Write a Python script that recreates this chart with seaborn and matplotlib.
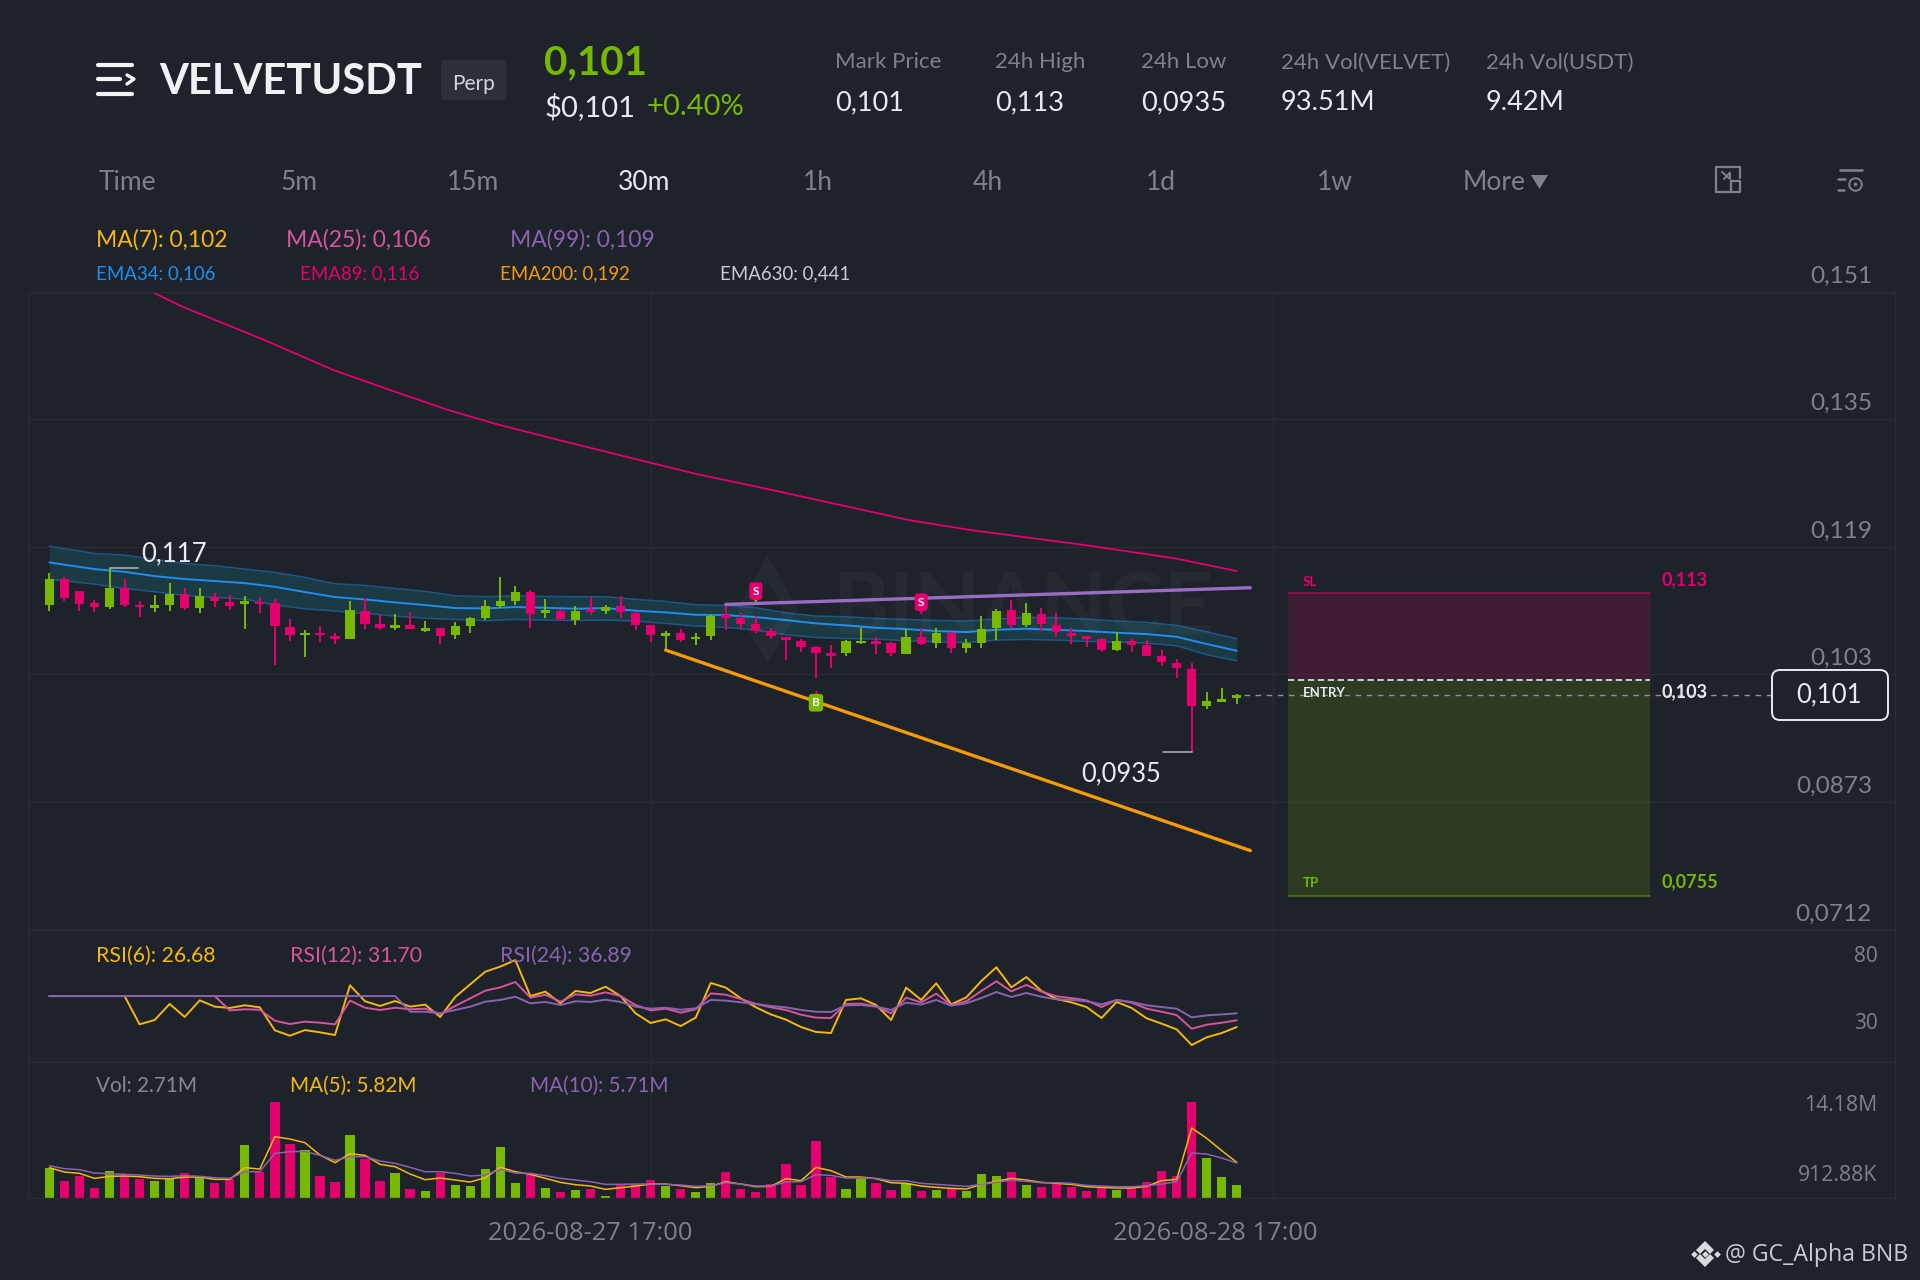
import numpy as np
import pandas as pd
import seaborn as sns
from matplotlib import pyplot as plt
from matplotlib.lines import Line2D
from matplotlib.patches import FancyBboxPatch, Polygon, Rectangle
from matplotlib.transforms import IdentityTransform

W, H = 1920, 1280

# Colours
BG = '#1e222a'
GRID = '#282c34'
GREEN = '#76b900'
PINK = '#e6006d'
GREY = '#7d828a'
WHITE = '#e8eaec'
YELLOW = '#f5b80e'
ROSE = '#d6559d'
PURPLE = '#8a63b0'
BLUE = '#1e8ff0'
ORANGE = '#f59a0b'

# Candles, 30m
opens = [.11165, .11491, .11344, .11193, .11144, .11381, .11173, .11135, .11173, .11302,
         .11135, .11269, .11202, .11177, .11210, .11190, .10889, .10788, .10822, .10784,
         .10746, .11089, .10931, .10884, .10922, .10847, .10880, .10788, .10906, .11005,
         .11152, .11223, .11328, .11068, .11098, .10984, .11115, .11093, .11152, .11068,
         .10914, .10780, .10813, .10742, .10775, .11043, .11005, .10931, .10842, .10767,
         .10722, .10642, .10563, .10563, .10688, .10713, .10692, .10555, .10771, .10697,
         .10822, .10625, .10697, .10876, .11102, .10914, .11051, .10918, .10817, .10780,
         .10742, .10604, .10713, .10663, .10534, .10441, .10366, .09907, .09956, .09998]
closes = [.11499, .11256, .11186, .11144, .11381, .11173, .11140, .11173, .11302, .11135,
          .11282, .11214, .11161, .11214, .11177, .10910, .10796, .10822, .10788, .10746,
          .11102, .10935, .10884, .10922, .10872, .10880, .10775, .10901, .11001, .11152,
          .11218, .11328, .11060, .11102, .10989, .11098, .11081, .11140, .11077, .10918,
          .10796, .10813, .10733, .10771, .11031, .11005, .10935, .10842, .10775, .10733,
          .10638, .10566, .10530, .10713, .10722, .10680, .10566, .10771, .10684, .10822,
          .10625, .10692, .10872, .11093, .10914, .11064, .10926, .10830, .10784, .10742,
          .10604, .10722, .10671, .10534, .10454, .10378, .09907, .09960, .09990, .10036]
highs = [.11566, .11516, .11344, .11231, .11628, .11491, .11223, .11294, .11440, .11381,
         .11377, .11319, .11290, .11282, .11265, .11240, .10993, .10855, .10906, .10813,
         .11214, .11260, .11047, .11056, .11085, .10964, .10884, .10952, .11022, .11231,
         .11516, .11407, .11353, .11244, .11115, .11152, .11282, .11165, .11282, .11085,
         .10914, .10838, .10864, .10813, .11047, .11182, .11064, .11026, .10880, .10771,
         .10738, .10655, .10663, .10730, .10876, .10771, .10705, .10872, .10884, .10884,
         .10834, .10742, .11031, .11123, .11231, .11190, .11131, .11064, .10876, .10780,
         .10754, .10830, .10738, .10730, .10604, .10488, .10437, .10074, .10124, .10057]
lows = [.11098, .11214, .11098, .11085, .11123, .11148, .11022, .11077, .11098, .11106,
        .11064, .11144, .11106, .10872, .11064, .10416, .10713, .10517, .10709, .10680,
        .10746, .10872, .10855, .10855, .10864, .10834, .10680, .10742, .10813, .10981,
        .11135, .11169, .10884, .11001, .10964, .10914, .11043, .11056, .11005, .10855,
        .10705, .10604, .10709, .10667, .10726, .10855, .10864, .10817, .10746, .10475,
        .10583, .10257, .10382, .10534, .10680, .10555, .10534, .10555, .10671, .10633,
        .10566, .10571, .10633, .10733, .10884, .10897, .10847, .10767, .10675, .10642,
        .10583, .10596, .10579, .10530, .10408, .10257, .09322, .09865, .09949, .09928]

# EMA34 band
ema34_idx = [0, 3, 5, 7, 9, 11, 13, 15, 17, 19, 21, 23, 25, 27, 29, 31, 33, 35, 37, 39,
             41, 43, 45, 47, 49, 51, 53, 55, 57, 59, 61, 63, 65, 67, 69, 71, 73, 75, 77, 79]
ema34_mid = [.11703, .11620, .11586, .11532, .11495, .11470, .11444, .11398, .11332, .11269,
             .11240, .11202, .11169, .11131, .11127, .11144, .11135, .11123, .11131, .11098,
             .11077, .11047, .11043, .11018, .10981, .10939, .10914, .10884, .10868, .10843,
             .10830, .10859, .10872, .10859, .10843, .10822, .10805, .10771, .10680, .10596]
ema34_up = [.11908, .11816, .11795, .11741, .11691, .11662, .11620, .11578, .11516, .11436,
            .11415, .11377, .11340, .11286, .11273, .11286, .11277, .11273, .11273, .11240,
            .11214, .11173, .11165, .11135, .11072, .11031, .11022, .11001, .10989, .10976,
            .10968, .10993, .11014, .11010, .10993, .10968, .10952, .10914, .10834, .10746]
ema34_lo = [.11490, .11432, .11377, .11336, .11290, .11265, .11244, .11169, .11123, .11093,
            .11064, .11031, .11005, .10989, .10972, .10989, .10981, .10976, .10981, .10968,
            .10939, .10906, .10889, .10855, .10796, .10763, .10750, .10742, .10722, .10709,
            .10700, .10730, .10738, .10730, .10713, .10705, .10692, .10658, .10546, .10471]

# EMA89
ema89_idx = [6.8, 8.9, 14.05, 18.9, 23.0, 26.55, 29.8, 33.9, 40, 43, 48, 57.2, 61.3, 68.9, 74.9, 79]
ema89 = [.15098, .14906, .14513, .14116, .13844, .13614, .13435, .13238, .12953, .12815,
         .12615, .12234, .12109, .11921, .11754, .11595]

# Drawn trend lines
sell_line_idx = [45, 79.9]
sell_line = [.11177, .11386]
buy_line_idx = [41, 79.9]
buy_line = [.10604, .0809]

# Trade box
sl_price = .11316
entry_price = .10229
tp_price = .07519
last_price = .10037

price_ticks = [.151, .135, .119, .103, .087, .071]
price_labels = ['0,151', '0,135', '0,119', '0,103', '0,0873', '0,0712']

rsi6 = [49.8, 49.8, 49.8, 49.8, 49.8, 49.8, 28.7, 31.9, 43.9, 34.2, 46.6, 41.9, 40.9, 42.9, 41.4, 24.2,
        20.2, 24.4, 22.7, 20.7, 57.8, 45.9, 42.4, 46.1, 41.9, 43.4, 34.2, 49.1, 58.6, 68.0, 71.8, 76.7,
        49.8, 53.1, 44.4, 53.6, 52.1, 56.8, 49.8, 36.9, 29.7, 32.4, 27.4, 33.7, 59.6, 56.1, 48.1, 41.4,
        36.1, 32.2, 26.7, 23.0, 22.2, 46.9, 48.1, 43.1, 31.9, 56.1, 46.9, 59.3, 43.6, 48.8, 61.0, 71.3,
        56.3, 64.0, 53.6, 47.6, 45.1, 41.6, 33.4, 45.4, 40.9, 33.2, 29.2, 24.9, 13.2, 19.0, 22.2, 26.7]
rsi12 = [49.8, 49.8, 49.8, 49.8, 49.8, 49.8, 49.8, 49.8, 49.8, 49.8, 49.8, 49.8, 39.1, 39.9, 39.6, 31.4,
         28.9, 30.7, 29.9, 28.7, 46.4, 41.1, 39.4, 41.1, 39.9, 40.4, 36.4, 42.4, 48.1, 53.8, 56.3, 60.3,
         48.6, 50.8, 45.6, 51.1, 50.1, 52.6, 49.8, 43.1, 39.1, 40.4, 37.4, 39.9, 51.8, 50.8, 47.6, 43.9,
         41.4, 39.4, 35.9, 33.7, 33.4, 43.9, 44.1, 42.1, 36.9, 48.6, 45.1, 51.6, 43.1, 45.9, 53.6, 60.8,
         53.3, 58.1, 53.1, 49.6, 48.3, 46.6, 41.6, 46.9, 44.9, 40.4, 38.1, 35.6, 25.4, 28.4, 29.9, 31.7]
rsi24 = [49.8, 49.8, 49.8, 49.8, 49.8, 49.8, 49.8, 49.8, 49.8, 49.8, 49.8, 49.8, 49.8, 49.8, 49.8, 49.8,
         49.8, 49.8, 49.8, 49.8, 49.8, 49.8, 49.8, 49.8, 38.1, 38.1, 36.9, 39.4, 41.9, 45.6, 46.9, 49.3,
         44.4, 45.4, 43.1, 45.9, 45.4, 47.1, 45.4, 41.9, 40.4, 41.1, 39.6, 40.6, 46.9, 46.4, 45.1, 43.9,
         42.4, 41.4, 39.4, 38.1, 37.9, 42.9, 43.1, 41.9, 39.4, 44.9, 43.4, 46.9, 42.6, 44.4, 48.3, 52.8,
         49.1, 52.1, 49.3, 47.3, 46.9, 45.9, 43.6, 46.9, 45.4, 42.9, 41.6, 40.4, 33.9, 35.4, 36.1, 36.9]

# Volume in millions
volume = [5.40, 2.94, 3.96, 1.80, 4.74, 3.90, 3.42, 3.06, 3.30, 4.38, 3.66, 2.58, 3.30, 9.48, 4.68, 17.16,
          9.66, 8.58, 3.96, 2.88, 11.28, 7.02, 3.00, 4.44, 1.56, 1.26, 4.38, 2.34, 2.10, 5.16, 9.12, 2.58,
          4.26, 1.74, 1.08, 1.38, 1.62, 0.30, 2.46, 2.28, 3.18, 2.04, 1.56, 1.08, 2.58, 4.62, 1.56, 1.02,
          2.46, 6.00, 2.28, 10.20, 3.72, 1.50, 3.48, 2.70, 1.38, 2.58, 1.14, 1.38, 1.50, 1.26, 4.20, 3.84,
          4.68, 2.28, 1.92, 2.58, 1.92, 1.20, 1.68, 1.44, 1.86, 2.82, 4.80, 3.96, 17.22, 7.08, 3.66, 2.28]
vol_ma5 = [5.40, 4.62, 4.38, 3.48, 3.84, 3.90, 3.78, 3.48, 3.42, 3.72, 3.72, 3.30, 3.30, 5.40, 5.16, 10.98,
           10.56, 9.90, 7.68, 6.30, 7.92, 7.62, 6.00, 5.58, 4.26, 3.24, 3.54, 3.18, 2.82, 3.60, 5.46, 4.68,
           4.20, 3.48, 2.76, 2.34, 2.10, 1.50, 1.80, 2.10, 2.46, 2.46, 2.16, 1.80, 2.04, 2.88, 2.46, 1.98,
           2.04, 3.42, 3.06, 5.46, 4.86, 3.72, 3.72, 3.42, 2.70, 2.58, 2.10, 1.86, 1.68, 1.56, 2.40, 2.94,
           3.48, 3.18, 2.76, 2.58, 2.40, 1.98, 1.86, 1.74, 1.74, 2.04, 3.06, 3.30, 12.54, 10.68, 8.46, 6.36]
vol_ma10 = [5.76, 5.22, 5.04, 4.44, 4.32, 4.20, 4.08, 3.90, 3.84, 3.96, 3.84, 3.60, 3.48, 4.68, 4.68, 7.98,
            8.28, 8.34, 7.62, 6.72, 7.38, 7.38, 6.60, 6.18, 5.46, 4.68, 4.68, 4.38, 3.90, 4.08, 5.10, 4.44,
            4.38, 3.96, 3.48, 3.18, 2.88, 2.40, 2.40, 2.46, 2.46, 2.40, 2.28, 2.04, 2.16, 2.70, 2.46, 2.10,
            2.10, 2.82, 2.88, 4.14, 4.02, 3.54, 3.54, 3.48, 3.06, 3.06, 2.58, 2.40, 2.22, 2.04, 2.40, 2.76,
            3.18, 2.94, 2.70, 2.70, 2.58, 2.22, 2.10, 1.98, 1.98, 2.16, 2.46, 2.88, 8.04, 7.86, 7.14, 6.24]

day_ticks = [40, 81.4]

df = pd.DataFrame({'open': opens, 'high': highs, 'low': lows, 'close': closes, 'vol': volume})
df['idx'] = np.arange(len(df))
df['side'] = np.where(df['close'] >= df['open'], 'up', 'down')
side_colors = {'up': GREEN, 'down': PINK}

sns.set_theme(style='dark', rc={'figure.facecolor': BG, 'axes.facecolor': BG, 'axes.edgecolor': GRID,
                                'axes.linewidth': 1.0, 'grid.color': GRID, 'grid.linewidth': 1.0})
plt.rcParams['font.family'] = ['Lato', 'DejaVu Sans']

fig = plt.figure(figsize=(W / 100, H / 100), dpi=100)


def panel(top, bottom):
    ax = fig.add_axes([28 / W, 1 - bottom / H, (1895 - 28) / W, (bottom - top) / H])
    ax.set_xlim(-1.424, 122.79)
    ax.set_xticks(day_ticks)
    ax.grid(True, axis='x', zorder=0)
    ax.tick_params(length=0, labelbottom=False, labelleft=False)
    ax.set_axisbelow(True)
    for side in ax.spines.values():
        side.set_color(GRID)
    return ax


def label(x, y, s, color=GREY, size=16, weight='normal', ha='left', family=None, zorder=3):
    kw = {'family': family} if family else {}
    fig.text(x / W, 1 - y / H, s, color=color, fontsize=size, fontweight=weight,
             ha=ha, va='center', zorder=zorder, **kw)


def stroke(xs, ys, color=WHITE, lw=2.5):
    fig.add_artist(Line2D([x / W for x in xs], [1 - y / H for y in ys], color=color, lw=lw,
                          solid_capstyle='round', transform=fig.transFigure))


def line(ax, x, y, color, lw, zorder=3):
    sns.lineplot(x=x, y=y, ax=ax, color=color, linewidth=lw, estimator=None, errorbar=None,
                 legend=False, zorder=zorder)
    ax.set_xlabel('')
    ax.set_ylabel('')


ax_price = panel(291.6, 930)
ax_rsi = panel(930, 1061.7)
ax_vol = panel(1061.7, 1197.7)

# ---- price panel
ax_price.set_ylim(.07094, .15099)
ax_price.set_yticks(price_ticks)
ax_price.grid(True, axis='y', zorder=0)
for val, txt in zip(price_ticks, price_labels):
    ax_price.annotate(txt, xy=(1, val), xycoords=ax_price.get_yaxis_transform(), xytext=(-16.6, 11.2),
                      textcoords='offset points', ha='right', va='center', color=GREY, fontsize=17.6,
                      annotation_clip=False)

# EMA band
ax_price.fill_between(ema34_idx, ema34_lo, ema34_up, color='#1b3a44', lw=0, zorder=1)
line(ax_price, ema34_idx, ema34_up, '#1d5688', 1.1, zorder=1.5)
line(ax_price, ema34_idx, ema34_lo, '#1d5688', 1.1, zorder=1.5)
line(ax_price, ema34_idx, ema34_mid, BLUE, 1.4, zorder=2)
line(ax_price, ema89_idx, ema89, PINK, 1.3, zorder=2)

# watermark, faint and over the band
pix = IdentityTransform()
diamond = [(767.5, H - 568), (791, H - 609.5), (767.5, H - 651), (744, H - 609.5)]
ax_price.add_patch(Polygon(diamond, closed=True, fill=False, ec='white', alpha=.035, lw=9, transform=pix, zorder=2.2))
ax_price.text(832, H - 610, 'BINANCE', color='white', alpha=.035, fontsize=62, fontweight='bold', va='center',
              transform=pix, zorder=2.2)

# candles
body_low = df[['open', 'close']].min(axis=1)
body_size = (df['open'] - df['close']).abs()
candle_colors = df['side'].map(side_colors).tolist()
ax_price.vlines(df['idx'], df['low'], df['high'], colors=candle_colors, lw=1.4, zorder=3)
ax_price.bar(df['idx'], body_size, bottom=body_low, width=0.62, color=candle_colors, lw=0, zorder=3.1)

# trend lines
line(ax_price, sell_line_idx, sell_line, '#9b6cc4', 2.4, zorder=4)
line(ax_price, buy_line_idx, buy_line, '#f59a0b', 2.4, zorder=4)

# buy / sell flags
sns.scatterplot(x=[47, 58], y=[.11244, .11098], marker='v', s=36, c=[GREEN, PINK], linewidth=0, ax=ax_price, zorder=5)
sns.scatterplot(x=[51], y=[.10053], marker='^', s=36, color=PINK, linewidth=0, ax=ax_price, zorder=5)
for i, val, txt, col in [(47, .11344, 'S', PINK), (58, .11206, 'S', PINK), (51, .09944, 'B', GREEN)]:
    ax_price.text(i, val, txt, color='white', fontsize=8.5, fontweight='bold', ha='center', va='center', zorder=6,
                  bbox=dict(boxstyle='round,pad=0.28', fc=col, ec='none'))

# high / low tags
ax_price.plot([4, 5.87], [highs[4], highs[4]], color='#a8abb0', lw=1.2, zorder=3)
ax_price.plot([74.1, 76], [lows[76], lows[76]], color='#a8abb0', lw=1.2, zorder=3)
label(141, 554, '0,117', WHITE, 18.5)
label(1081, 773.5, '0,0935', WHITE, 18.4)

# trade box
box_x, box_w = 82.4, 24.1
ax_price.add_patch(Rectangle((box_x, entry_price), box_w, sl_price - entry_price, fc=PINK, alpha=.16, lw=0, zorder=2))
ax_price.add_patch(Rectangle((box_x, tp_price), box_w, entry_price - tp_price, fc=GREEN, alpha=.17, lw=0, zorder=2))
ax_price.plot([box_x, box_x + box_w], [sl_price, sl_price], color=PINK, alpha=.6, lw=1.2, zorder=2.5)
ax_price.plot([box_x, box_x + box_w], [tp_price, tp_price], color=GREEN, alpha=.5, lw=1.2, zorder=2.5)
ax_price.plot([box_x, box_x + box_w], [entry_price, entry_price], color='#d8d8dc', lw=1.3, ls=(0, (3.5, 2)), zorder=2.5)
ax_price.plot([79.5, 114.6], [last_price, last_price], color='#8d9096', lw=1.0, ls=(0, (4, 4)), zorder=2.5)
label(1302.5, 581.5, 'SL', PINK, 9.5, 'bold')
label(1302.5, 693, 'ENTRY', WHITE, 9.5, 'bold')
label(1302.5, 883, 'TP', GREEN, 9.5, 'bold')
label(1662, 580, '0,113', PINK, 13, 'bold')
label(1662, 692, '0,103', WHITE, 13, 'bold')
label(1662, 881.5, '0,0755', GREEN, 13, 'bold')

# last price tag
fig.add_artist(FancyBboxPatch((1772, H - 720), 116, 50, boxstyle='round,pad=0,rounding_size=8', fc=BG,
                              ec=WHITE, lw=1.4, transform=pix, zorder=4))
label(1829, 694.5, '0,101', WHITE, 18.5, ha='center', zorder=5)

# ---- RSI panel
ax_rsi.set_ylim(.78, 99.14)
ax_rsi.set_yticks([])
line(ax_rsi, df['idx'], rsi6, YELLOW, 1.4, zorder=3)
line(ax_rsi, df['idx'], rsi12, ROSE, 1.4, zorder=3.1)
line(ax_rsi, df['idx'], rsi24, PURPLE, 1.4, zorder=3.2)

# ---- volume panel
sns.barplot(data=df, x='idx', y='vol', hue='side', palette=side_colors, native_scale=True, dodge=False,
            width=0.62, ax=ax_vol, legend=False, linewidth=0, saturation=1, zorder=2)
ax_vol.set_xlim(-1.424, 122.79)
ax_vol.set_ylim(0, 24.48)
ax_vol.set_yticks([])
ax_vol.set_xticks(day_ticks)
ax_vol.tick_params(length=0, labelbottom=False)
line(ax_vol, df['idx'], vol_ma5, YELLOW, 1.1, zorder=3)
line(ax_vol, df['idx'], vol_ma10, PURPLE, 1.1, zorder=3.1)
ax_vol.grid(True, axis='x', zorder=0)

# ---- header
stroke([98, 132], [64.5, 64.5], '#f2f3f5', 3)
stroke([98, 120], [79, 79], '#f2f3f5', 3)
stroke([98, 132], [94, 94], '#f2f3f5', 3)
stroke([127, 134, 127], [75, 79, 84], '#f2f3f5', 2.4)
label(159, 82, 'VELVETUSDT', '#f0f1f3', 30, 'bold')
fig.add_artist(FancyBboxPatch((441, H - 100), 65.5, 40, boxstyle='round,pad=0,rounding_size=5', fc='#2b3038',
                              ec='none', transform=pix, zorder=2))
label(474, 84, 'Perp', '#d4d6da', 15, ha='center')
label(544, 63, '0,101', GREEN, 29, 'bold')
label(545, 107, '$0,101', WHITE, 21)
label(646, 107, '+0.40%', GREEN, 21)

stat_x = [835, 995, 1141, 1281, 1485.5]
stat_names = ['Mark Price', '24h High', '24h Low', '24h Vol(VELVET)', '24h Vol(USDT)']
stat_vals = ['0,101', '0,113', '0,0935', '93.51M', '9.42M']
for x, name, val in zip(stat_x, stat_names, stat_vals):
    label(x, 62.5, name, GREY, 16)
    label(x, 102.5, val, WHITE, 19.5)

tf_x = [98.5, 281, 447, 618, 802.5, 973, 1146, 1317, 1463]
tf_names = ['Time', '5m', '15m', '30m', '1h', '4h', '1d', '1w', 'More']
for x, name in zip(tf_x, tf_names):
    label(x, 183, name, WHITE if name == '30m' else GREY, 19)
fig.add_artist(Polygon([(1531, H - 175), (1548, H - 175), (1539.5, H - 189)], closed=True, fc=GREY, ec='none',
                       transform=pix, zorder=3))

# toolbar icons
stroke([1716, 1716, 1730], [192, 167, 167], GREY, 1.6)
stroke([1730, 1740, 1740], [167, 167, 178], GREY, 1.6)
stroke([1716, 1730], [192, 192], GREY, 1.6)
stroke([1731, 1740, 1740, 1731, 1731], [181, 181, 192, 192, 181], GREY, 1.6)
stroke([1722, 1730, 1730, 1724], [172, 179, 172.5, 179], GREY, 1.4)
stroke([1840, 1862], [170, 170], GREY, 1.8)
stroke([1838, 1845], [179, 179], GREY, 1.8)
stroke([1838, 1844], [190, 190], GREY, 1.8)
fig.add_artist(Line2D([1855 / W], [1 - 184 / H], marker='o', ms=9, mfc='none', mec=GREY, mew=1.4,
                      transform=fig.transFigure))
fig.add_artist(Line2D([1855 / W], [1 - 184 / H], marker='o', ms=2.6, mfc=GREY, mec='none',
                      transform=fig.transFigure))

# indicator legends
label(96.5, 239.5, 'MA(7): 0,102', YELLOW, 16.5)
label(285.5, 239.5, 'MA(25): 0,106', ROSE, 16.5)
label(510, 239.5, 'MA(99): 0,109', PURPLE, 16.5)
label(96.5, 274, 'EMA34: 0,106', BLUE, 13.4)
label(300.5, 274, 'EMA89: 0,116', PINK, 13.4)
label(500, 274, 'EMA200: 0,192', ORANGE, 13.4)
label(720.5, 274, 'EMA630: 0,441', '#c8ccd0', 13.4)
label(96.5, 955.5, 'RSI(6): 26.68', YELLOW, 15.3)
label(290.5, 955.5, 'RSI(12): 31.70', ROSE, 15.3)
label(500.5, 955.5, 'RSI(24): 36.89', PURPLE, 15.3)
label(96.5, 1086, 'Vol: 2.71M', '#858a92', 14.9)
label(290.5, 1086, 'MA(5): 5.82M', YELLOW, 14.9)
label(530, 1086, 'MA(10): 5.71M', PURPLE, 14.9)

# side scales of the lower panels
label(1877.5, 957, '80', GREY, 15, ha='right', family='Open Sans')
label(1877.5, 1023.5, '30', GREY, 15, ha='right', family='Open Sans')
label(1877.5, 1105.5, '14.18M', GREY, 15.3, ha='right', family='Open Sans')
label(1877.5, 1175.5, '912.88K', GREY, 15.3, ha='right', family='Open Sans')

# date labels
label(590, 1234, '2026-08-27 17:00', GREY, 18.4, ha='center', family='Open Sans')
label(1215, 1234, '2026-08-28 17:00', GREY, 18.4, ha='center', family='Open Sans')

# credit
label(1725, 1255, '@ GC_Alpha BNB', '#c8ccd2', 16.7, family='Open Sans')
for pts in [[(1705, 1241), (1714, 1250), (1710, 1254), (1705, 1249), (1700, 1254), (1696, 1250)],
            [(1705, 1267), (1714, 1258), (1710, 1254), (1705, 1259), (1700, 1254), (1696, 1258)]]:
    fig.add_artist(Polygon([(x, H - y) for x, y in pts], closed=True, fc='#d8dade', ec='none', transform=pix))
for cx in [1693.5, 1705, 1716.5]:
    fig.add_artist(Line2D([cx / W], [1 - 1254 / H], marker='D', ms=3.4, mfc='#d8dade', mec='none',
                          transform=fig.transFigure))

plt.savefig('out.png', dpi=100, facecolor=BG)
